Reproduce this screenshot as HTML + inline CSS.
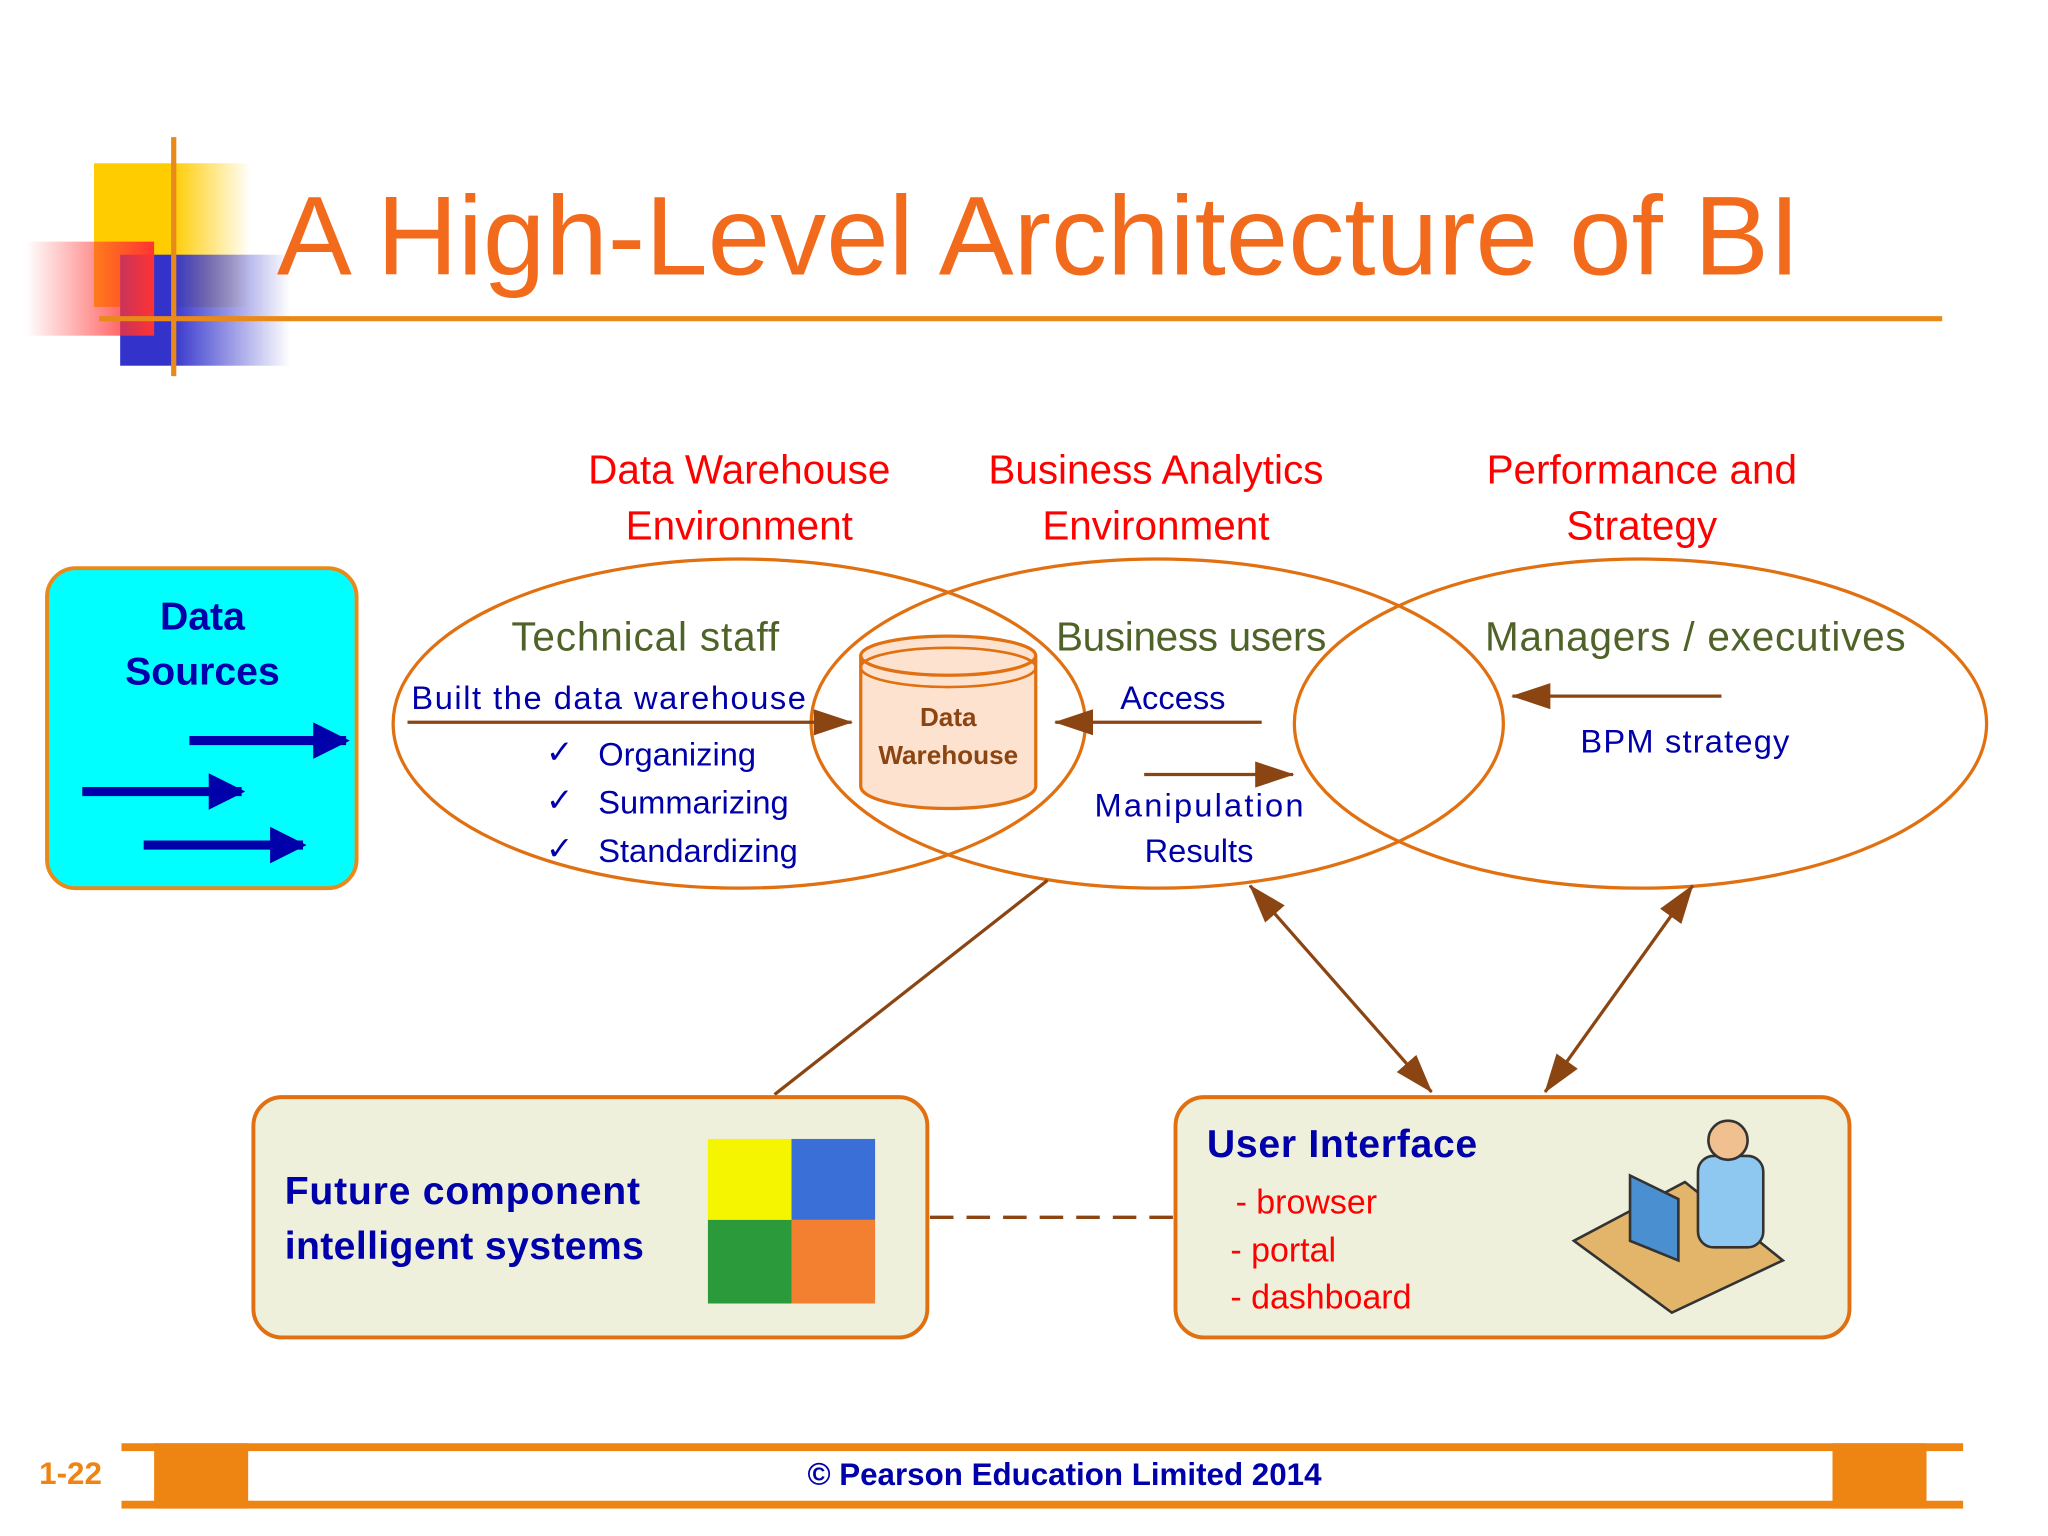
<!DOCTYPE html>
<html><head><meta charset="utf-8"><style>
html,body{margin:0;padding:0;background:#fff}
svg{display:block}
text{font-family:"Liberation Sans","DejaVu Sans",sans-serif}
</style></head><body>
<svg width="2048" height="1536" viewBox="0 0 1568 1176" preserveAspectRatio="none" xmlns="http://www.w3.org/2000/svg">
<defs>
<linearGradient id="gy" x1="0" x2="1"><stop offset="0.5" stop-color="#ffcc00"/><stop offset="1" stop-color="#ffcc00" stop-opacity="0"/></linearGradient>
<linearGradient id="gb" x1="0" x2="1"><stop offset="0.3" stop-color="#3333cc"/><stop offset="1" stop-color="#3333cc" stop-opacity="0"/></linearGradient>
<linearGradient id="gr" x1="1" x2="0"><stop offset="0" stop-color="#ff3333"/><stop offset="1" stop-color="#ff3333" stop-opacity="0"/></linearGradient>
<marker id="ah" viewBox="0 0 30 20" refX="29" refY="10" markerWidth="30" markerHeight="20" orient="auto-start-reverse" markerUnits="userSpaceOnUse"><path d="M0,0L30,10L0,20z" fill="#8b4513"/></marker>
<marker id="ab" viewBox="0 0 10 10" refX="9" refY="5" markerWidth="28" markerHeight="28" orient="auto" markerUnits="userSpaceOnUse"><path d="M0,0L10,5L0,10z" fill="#0000aa"/></marker>
</defs>
<rect x="72" y="125" width="120" height="110" fill="url(#gy)"/>
<rect x="92" y="195" width="130" height="85" fill="url(#gb)"/>
<rect x="20" y="185" width="98" height="72" fill="url(#gr)"/>
<line x1="133" y1="105" x2="133" y2="288" stroke="#e8891a" stroke-width="4"/>
<line x1="76" y1="244" x2="1487" y2="244" stroke="#e8891a" stroke-width="4"/>
<text x="212" y="210" font-size="86" fill="#f26b1d">A High-Level Architecture of BI</text>
<g font-size="31" fill="#ff0000" text-anchor="middle">
<text x="566" y="370">Data Warehouse</text><text x="566" y="413">Environment</text>
<text x="885" y="370">Business Analytics</text><text x="885" y="413">Environment</text>
<text x="1257" y="370">Performance and</text><text x="1257" y="413">Strategy</text>
</g>
<rect x="36" y="435" width="237" height="245" rx="22" fill="#00ffff" stroke="#e8891a" stroke-width="3"/>
<g font-size="30" font-weight="bold" fill="#0000aa" text-anchor="middle"><text x="155" y="482">Data</text><text x="155" y="524">Sources</text></g>
<g stroke="#0000aa" stroke-width="7" marker-end="url(#ab)"><line x1="145" y1="567" x2="265" y2="567"/><line x1="63" y1="606" x2="185" y2="606"/><line x1="110" y1="647" x2="232" y2="647"/></g>
<g fill="none" stroke="#e07010" stroke-width="2.5">
<ellipse cx="566" cy="554" rx="265" ry="126"/>
<ellipse cx="886" cy="554" rx="265" ry="126"/>
<ellipse cx="1256" cy="554" rx="265" ry="126"/>
</g>
<path d="M659,502 v100 a67,17 0 0 0 134,0 v-100" fill="#fde2d0" stroke="#e07010" stroke-width="2.5"/>
<ellipse cx="726" cy="502" rx="67" ry="15" fill="#fde2d0" stroke="#e07010" stroke-width="2.5"/>
<ellipse cx="726" cy="511" rx="67" ry="15" fill="none" stroke="#e07010" stroke-width="2"/>
<g font-size="20" font-weight="bold" fill="#8b4513" text-anchor="middle"><text x="726" y="556">Data</text><text x="726" y="585">Warehouse</text></g>
<g font-size="31" fill="#4f6228" text-anchor="middle"><text x="494" y="498" textLength="205">Technical staff</text><text x="912" y="498" textLength="207">Business users</text><text x="1298" y="498" textLength="322">Managers / executives</text></g>
<g font-size="25" fill="#0000aa">
<text x="315" y="543" textLength="302">Built the data warehouse</text>
<text x="418" y="584">✓</text><text x="418" y="621">✓</text><text x="418" y="658">✓</text>
<text x="458" y="586">Organizing</text><text x="458" y="623">Summarizing</text><text x="458" y="660">Standardizing</text>
<text x="898" y="543" text-anchor="middle">Access</text>
<text x="918" y="625" text-anchor="middle" textLength="160">Manipulation</text><text x="918" y="660" text-anchor="middle">Results</text>
<text x="1290" y="576" text-anchor="middle" textLength="160">BPM strategy</text>
</g>
<g stroke="#8b4513" stroke-width="2.5" fill="none">
<line x1="312" y1="553" x2="652" y2="553" marker-end="url(#ah)"/>
<line x1="966" y1="553" x2="808" y2="553" marker-end="url(#ah)"/>
<line x1="876" y1="593" x2="990" y2="593" marker-end="url(#ah)"/>
<line x1="1318" y1="533" x2="1158" y2="533" marker-end="url(#ah)"/>
<line x1="802" y1="674" x2="593" y2="838"/>
<line x1="957" y1="678" x2="1096" y2="836" marker-start="url(#ah)" marker-end="url(#ah)"/>
<line x1="1296" y1="678" x2="1183" y2="836" marker-start="url(#ah)" marker-end="url(#ah)"/>
<line x1="712" y1="932" x2="900" y2="932" stroke-dasharray="18,10"/>
</g>
<rect x="194" y="840" width="516" height="184" rx="22" fill="#eef0dc" stroke="#e07010" stroke-width="3"/>
<g font-size="30" font-weight="bold" fill="#0000aa"><text x="218" y="922" textLength="272">Future component</text><text x="218" y="964" textLength="275">intelligent systems</text></g>
<rect x="542" y="872" width="64" height="62" fill="#f5f500"/><rect x="606" y="872" width="64" height="62" fill="#3a6fd8"/>
<rect x="542" y="934" width="64" height="64" fill="#2a9a3a"/><rect x="606" y="934" width="64" height="64" fill="#f28030"/>
<rect x="900" y="840" width="516" height="184" rx="22" fill="#eef0dc" stroke="#e07010" stroke-width="3"/>
<text x="924" y="886" font-size="30" font-weight="bold" fill="#0000aa" textLength="207">User Interface</text>
<g font-size="26" fill="#ff0000"><text x="946" y="929">- browser</text><text x="942" y="966">- portal</text><text x="942" y="1002">- dashboard</text></g>
<path d="M1205,950 L1290,905 L1365,965 L1280,1005 Z" fill="#e3b56a" stroke="#333" stroke-width="2"/>
<rect x="1300" y="885" width="50" height="70" rx="12" fill="#8ec8f0" stroke="#333" stroke-width="2"/>
<circle cx="1323" cy="873" r="15" fill="#f0c090" stroke="#333" stroke-width="2"/>
<path d="M1248,900 L1285,918 L1285,965 L1248,950 Z" fill="#4a90d0" stroke="#333" stroke-width="2"/>
<rect x="93" y="1105" width="1410" height="6" fill="#ee8412"/>
<rect x="93" y="1149" width="1410" height="6" fill="#ee8412"/>
<rect x="118" y="1105" width="72" height="50" fill="#ee8412"/>
<rect x="1403" y="1105" width="72" height="50" fill="#ee8412"/>
<text x="30" y="1136" font-size="24" font-weight="bold" fill="#ee8412">1-22</text>
<text x="815" y="1137" font-size="24" font-weight="bold" fill="#0000aa" text-anchor="middle">© Pearson Education Limited 2014</text>
</svg>
</body></html>
